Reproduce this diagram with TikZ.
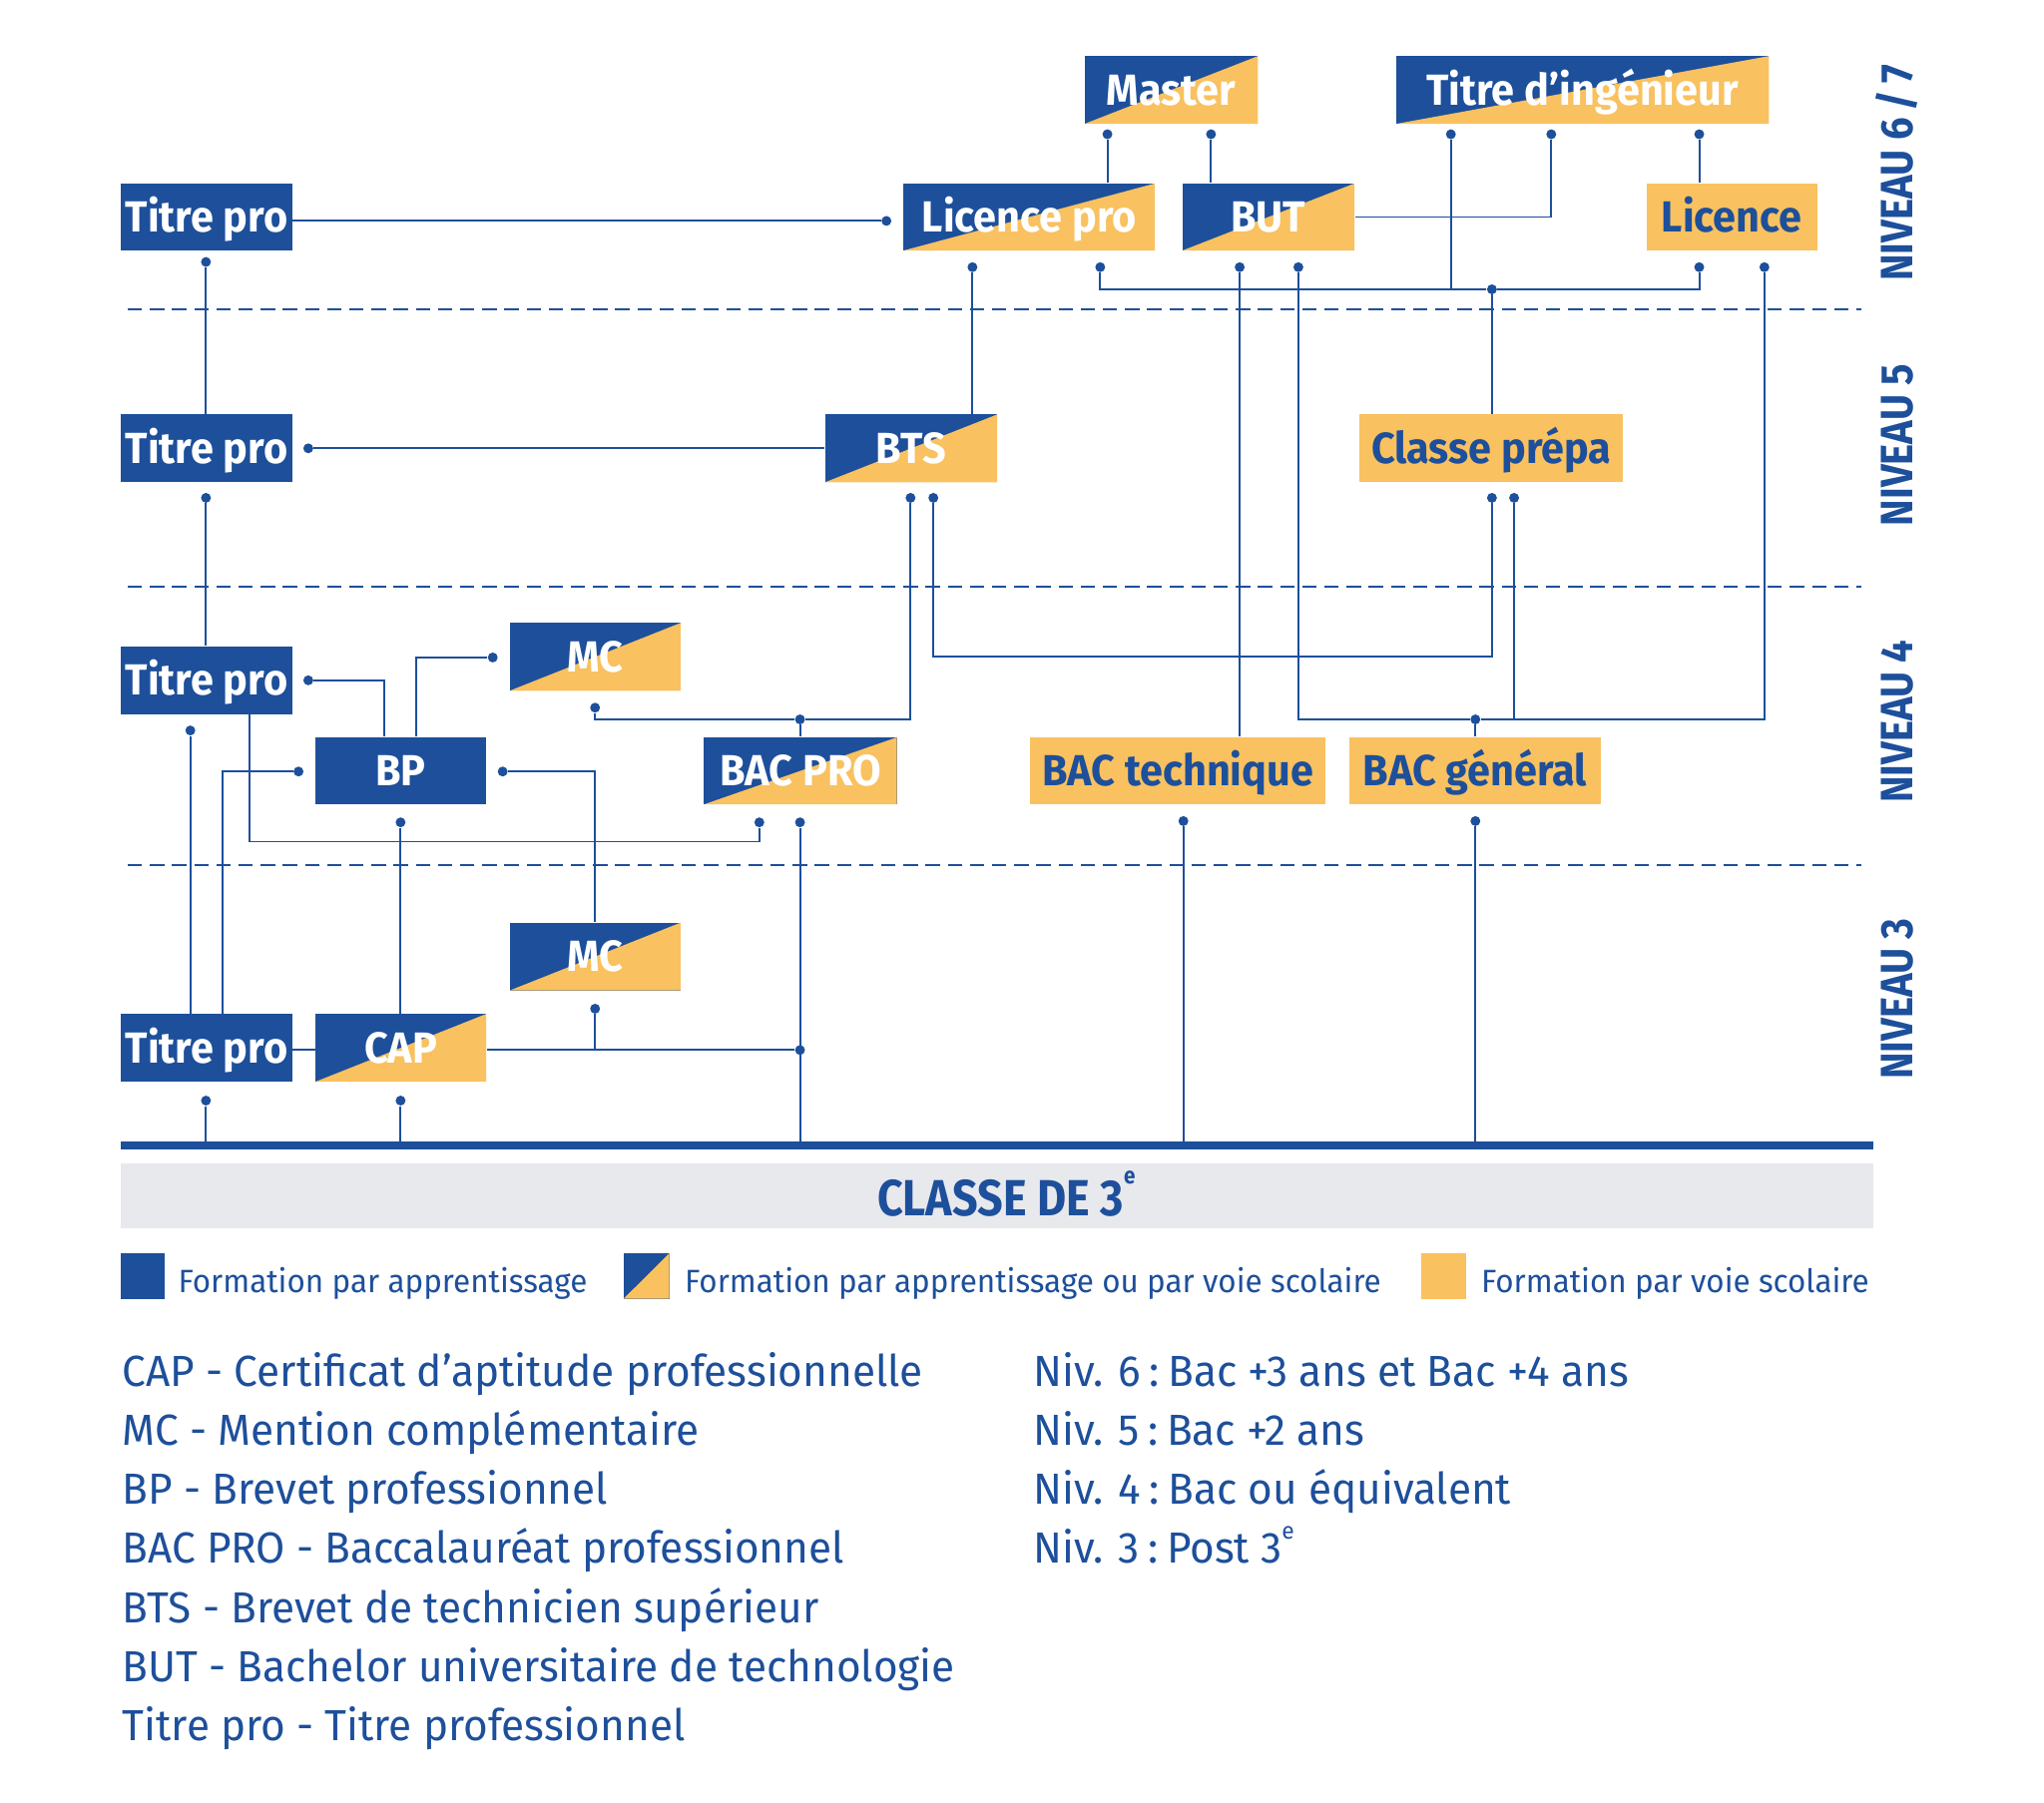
\documentclass[tikz,border=0pt]{standalone}
\usepackage{fontspec}
\setmainfont{Fira Sans}
\newfontfamily\boxfont[FakeStretch=0.95]{Fira Sans}
\newfontfamily\nivfont[FakeStretch=0.88]{Fira Sans}
\newfontfamily\deffont[FakeStretch=0.97]{Fira Sans}
\usetikzlibrary{calc}
\definecolor{bl}{HTML}{1D4F9B}
\definecolor{ye}{HTML}{F9C15F}
\definecolor{gr}{HTML}{E8E9ED}
\tikzset{
  box/.style={rectangle, inner sep=0pt, minimum height=25.75pt, text height=11.5pt, text depth=0pt,
    font=\boxfont\fontsize{16.7}{18}\selectfont\bfseries},
  bluebox/.style={box, fill=bl, text=white},
  yelbox/.style={box, fill=ye, text=bl},
  diagbox/.style={box, fill=bl, text=white,
    path picture={\fill[ye] (path picture bounding box.south west) -- (path picture bounding box.north east) -- (path picture bounding box.south east) -- cycle;}},
  conn/.style={draw=bl, line width=0.75pt},
  dot/.style={circle, fill=bl, inner sep=0pt, minimum size=3.8pt},
  lvl/.style={draw=bl, line width=0.75pt, dash pattern=on 5.5pt off 3pt},
  niv/.style={rotate=90, text=bl, inner sep=0pt, text height=12pt, text depth=0pt,
    font=\nivfont\fontsize{17.4}{18}\selectfont\bfseries},
  legtext/.style={anchor=base west, text=bl, inner sep=0pt, font=\deffont\fontsize{12.4}{14}\selectfont},
  deftext/.style={anchor=base west, text=bl, inner sep=0pt, font=\deffont\fontsize{16.7}{18}\selectfont},
}
\newcommand{\cl}{\hspace{0.2em}:\hspace{0.2em}}
\begin{document}
\begin{tikzpicture}[x=0.5pt, y=-0.5pt]
\useasboundingbox (0,0) rectangle (1568,1383);

% level separators
\draw[lvl] (98,237.4) -- (1428,237.4);
\draw[lvl] (98,450.4) -- (1428,450.4);
\draw[lvl] (98,663.8) -- (1428,663.8);

% boxes
\node[bluebox, minimum width=65.5pt] (tp6) at (158.5,166.5) {Titre pro};
\node[diagbox, minimum width=96.5pt] (lpro) at (789.5,166.5) {Licence pro};
\node[diagbox, minimum width=66pt] (but) at (973,166.5) {BUT};
\node[yelbox, minimum width=65.5pt] (lic) at (1328.5,166.5) {Licence};
\node[diagbox, minimum width=66.5pt, minimum height=26pt] (master) at (898.5,69) {Master};
\node[diagbox, minimum width=143pt, minimum height=26pt] (ing) at (1214,69) {Titre d’ingénieur};
\node[bluebox, minimum width=65.5pt, minimum height=26pt] (tp5) at (158.5,344) {Titre pro};
\node[diagbox, minimum width=66pt, minimum height=26pt] (bts) at (699,344) {BTS};
\node[yelbox, minimum width=101pt, minimum height=26pt] (prepa) at (1144,344) {Classe prépa};
\node[bluebox, minimum width=65.5pt, minimum height=26pt] (tp4) at (158.5,522) {Titre pro};
\node[diagbox, minimum width=65.5pt, minimum height=26pt] (mc4) at (456.5,504) {MC};
\node[bluebox, minimum width=65.5pt] (bp) at (307.5,591.5) {BP};
\node[diagbox, minimum width=74pt] (bacpro) at (614,591.5) {BAC PRO};
\node[yelbox, minimum width=113.5pt] (bactech) at (903.5,591.5) {BAC technique};
\node[yelbox, minimum width=96.5pt] (bacgen) at (1131.5,591.5) {BAC général};
\node[diagbox, minimum width=65.5pt, minimum height=26pt] (mc3) at (456.5,734) {MC};
\node[bluebox, minimum width=65.5pt, minimum height=26pt] (tp3) at (158.5,804) {Titre pro};
\node[diagbox, minimum width=65.5pt, minimum height=26pt] (cap) at (307.5,804) {CAP};

% base line
\coordinate (basel) at (93,879);
\coordinate (baser) at (1437,879);
\coordinate (base) at (0,877);
\draw[bl, line width=3pt] (basel) -- (baser);

% dots
\node[dot] (d1) at (680,169.5) {};
\node[dot] (d2) at (158,201) {};
\node[dot] (d3) at (746,205) {};
\node[dot] (d4) at (844,205) {};
\node[dot] (d5) at (849.5,103) {};
\node[dot] (d6) at (929,103) {};
\node[dot] (d7) at (1113,103) {};
\node[dot] (d8) at (1190,103) {};
\node[dot] (d9) at (1303.5,103) {};
\node[dot] (d10) at (951,205) {};
\node[dot] (d11) at (996,205) {};
\node[dot] (d12) at (1303.5,205) {};
\node[dot] (d13) at (1353.5,205) {};
\node[dot] (j1) at (1144.5,222) {};
\node[dot] (d14) at (236.5,344) {};
\node[dot] (d15) at (158,382) {};
\node[dot] (d16) at (698.5,382) {};
\node[dot] (d17) at (716,382) {};
\node[dot] (d18) at (1144.5,382) {};
\node[dot] (d19) at (1161.5,382) {};
\node[dot] (d20) at (236.5,522) {};
\node[dot] (d21) at (378,504.5) {};
\node[dot] (d22) at (456.5,543) {};
\node[dot] (j2) at (613.7,552) {};
\node[dot] (j3) at (1131.8,552) {};
\node[dot] (d23) at (146,560.5) {};
\node[dot] (d24) at (229,592) {};
\node[dot] (d25) at (385.6,592) {};
\node[dot] (d26) at (307.3,631) {};
\node[dot] (d27) at (582.5,631) {};
\node[dot] (d28) at (613.7,631) {};
\node[dot] (d29) at (907.8,630) {};
\node[dot] (d30) at (1131.8,630) {};
\node[dot] (d31) at (456.5,774) {};
\node[dot] (j4) at (613.7,805.7) {};
\node[dot] (d32) at (158,844.5) {};
\node[dot] (d33) at (307.3,844.5) {};

% helper bends
\coordinate (k1) at (716,503.7);
\coordinate (k2) at (295,522);
\coordinate (k3) at (319.6,504.5);
\coordinate (k4) at (191.3,645.8);
\coordinate (k5) at (170.6,592);

% connectors
\draw[conn] (tp6.east |- d1) -- (d1);
\draw[conn] (d2) -- (d2 |- tp5.north);
\draw[conn] (d3) -- (d3 |- bts.north);
\draw[conn] (d5) -- (d5 |- lpro.north);
\draw[conn] (d6) -- (d6 |- but.north);
\draw[conn] (d9) -- (d9 |- lic.north);
\draw[conn] (d8) |- (but.east);
\draw[conn] (d4) |- (j1) -| (d12);
\draw[conn] (d7) -- (d7 |- j1);
\draw[conn] (j1) -- (j1 |- prepa.north);
\draw[conn] (d10) -- (d10 |- bactech.north);
\draw[conn] (d11) |- (j3) -| (d13);
\draw[conn] (d19) -- (d19 |- j3);
\draw[conn] (j3) -- (j3 |- bacgen.north);
\draw[conn] (d17) -- (k1) -| (d18);
\draw[conn] (d16) |- (j2) -| (d22);
\draw[conn] (j2) -- (j2 |- bacpro.north);
\draw[conn] (d14) -- (bts.west |- d14);
\draw[conn] (d15) -- (d15 |- tp4.north);
\draw[conn] (d20) -- (k2) -- (k2 |- bp.north);
\draw[conn] (k3 |- bp.north) -- (k3) -- (d21);
\draw[conn] (k4 |- tp4.south) -- (k4) -| (d27);
\draw[conn] (d23) -- (d23 |- tp3.north);
\draw[conn] (d24) -- (k5) -- (k5 |- tp3.north);
\draw[conn] (d25) -| (mc3.north);
\draw[conn] (d26) -- (d26 |- cap.north);
\draw[conn] (d28) -- (d28 |- base);
\draw[conn] (cap.east |- j4) -- (j4);
\draw[conn] (d31) -- (d31 |- j4);
\draw[conn] (tp3.east |- j4) -- (cap.west |- j4);
\draw[conn] (d32) -- (d32 |- base);
\draw[conn] (d33) -- (d33 |- base);
\draw[conn] (d29) -- (d29 |- base);
\draw[conn] (d30) -- (d30 |- base);

% level labels
\node[niv] (n67) at (1455,132.7) {NIVEAU 6\hspace{0.15em}/\hspace{0.15em}7};
\node[niv] (n5) at (1455,341.5) {NIVEAU 5};
\node[niv] (n4) at (1455,553.6) {NIVEAU 4};
\node[niv] (n3) at (1455,766.5) {NIVEAU 3};

% classe de 3e
\fill[gr] (92.5,892.7) rectangle (1437,942.5);
\node[text=bl, inner sep=0pt, text height=13.4pt, text depth=0pt, font=\nivfont\fontsize{19.5}{20}\selectfont\bfseries] (c3) at (772,919.4) {CLASSE DE 3\raisebox{0.62em}{\fontsize{9}{9}\selectfont e}};

% legend
\fill[bl] (92.4,961.7) rectangle (126.6,996.6);
\fill[bl] (478.3,961.7) rectangle (513.4,996.6);
\fill[ye] (478.3,996.6) -- (513.4,961.7) -- (513.4,996.6) -- cycle;
\fill[ye] (1090,961.7) rectangle (1125,996.6);
\node[legtext] (l1) at (136.3,991.5) {Formation par apprentissage};
\node[legtext] (l2) at (524.9,991.5) {Formation par apprentissage ou par voie scolaire};
\node[legtext] (l3) at (1135.8,991.5) {Formation par voie scolaire};

% definitions
\node[deftext] (t1) at (93.7,1063.7) {CAP - Certificat d’aptitude professionnelle};
\node[deftext] (t2) at (93.7,1108.9) {MC - Mention complémentaire};
\node[deftext] (t3) at (93.7,1154.4) {BP - Brevet professionnel};
\node[deftext] (t4) at (93.7,1199.5) {BAC PRO - Baccalauréat professionnel};
\node[deftext] (t5) at (93.7,1244.9) {BTS - Brevet de technicien supérieur};
\node[deftext] (t6) at (93.7,1290.1) {BUT - Bachelor universitaire de technologie};
\node[deftext] (t7) at (93.7,1335.5) {Titre pro - Titre professionnel};
\node[deftext] (r1) at (792.2,1063.7) {Niv. 6\cl Bac +3 ans et Bac +4 ans};
\node[deftext] (r2) at (792.2,1108.9) {Niv. 5\cl Bac +2 ans};
\node[deftext] (r3) at (792.2,1154.4) {Niv. 4\cl Bac ou équivalent};
\node[deftext] (r4) at (792.2,1199.5) {Niv. 3\cl Post 3\raisebox{0.55em}{\fontsize{9}{9}\selectfont e}};
\end{tikzpicture}
\end{document}
